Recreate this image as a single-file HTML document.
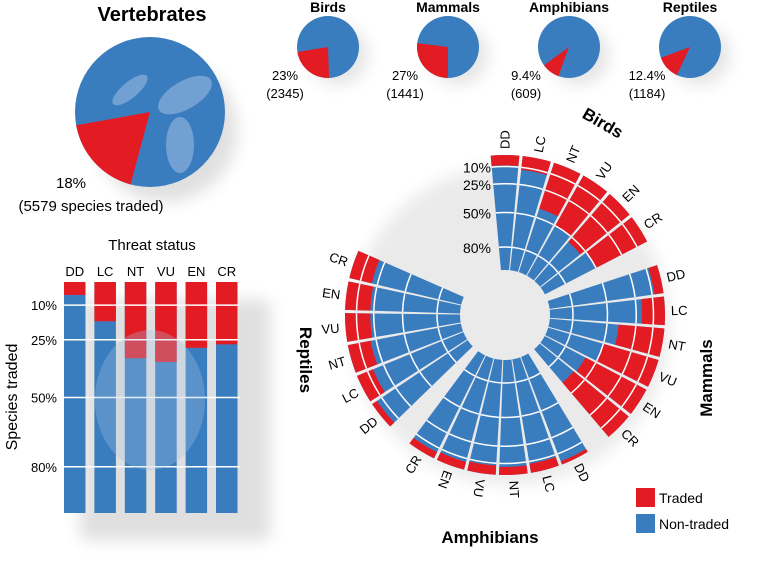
<!DOCTYPE html>
<html><head><meta charset="utf-8"><style>
body{margin:0;background:#fff;width:759px;height:559px;overflow:hidden;font-family:"Liberation Sans",sans-serif}
svg text{font-family:"Liberation Sans",sans-serif}
</style></head><body>
<svg id="chart" width="759" height="559" viewBox="0 0 759 559" xmlns="http://www.w3.org/2000/svg">
<defs><filter id="sh" x="-30%" y="-30%" width="160%" height="160%"><feGaussianBlur stdDeviation="8"/></filter></defs>
<g id="shadows"></g>
<text x="152" y="21" font-size="20" font-weight="bold" text-anchor="middle">Vertebrates</text>
<g id="pies"></g>
<g id="bars"></g>
<g id="radial"></g>
<g>
<rect x="636" y="488" width="19" height="19" fill="#e31c24"/>
<text x="659" y="503" font-size="14">Traded</text>
<rect x="636" y="514" width="19" height="19" fill="#3a7dbf"/>
<text x="659" y="529" font-size="14">Non-traded</text>
</g>
</svg>
<script>
const RED='#e31c24', BLUE='#3a7dbf';
const statuses=['DD','LC','NT','VU','EN','CR'];
const pieNames=['Vertebrates','Birds','Mammals','Amphibians','Reptiles'];
const piePct=[18,23,27,9.4,12.4];
const pieLabel=['18%','23%','27%','9.4%','12.4%'];
const pieCount=['(5579 species traded)','(2345)','(1441)','(609)','(1184)'];
const vertTraded=[5.6,17,33,34.6,28.5,27];
const yTicks=[10,25,50,80];
const groups=['Birds','Mammals','Amphibians','Reptiles'];
const birdsTraded=[9,12,42,50,55,50];
const mammalsTraded=[8,20,40,50,60,62];
const amphTraded=[3,8,7,8,7,6];
const reptTraded=[5,15,20,22,22,20];
const groupData=[birdsTraded,mammalsTraded,amphTraded,reptTraded];

const NS='http://www.w3.org/2000/svg';
function mk(tag,attrs,parent,txt){const e=document.createElementNS(NS,tag);for(const k in attrs)e.setAttribute(k,attrs[k]);if(txt!==undefined)e.textContent=txt;parent.appendChild(e);return e;}
function pt(cx,cy,r,a){const t=a*Math.PI/180;return [cx+r*Math.sin(t),cy-r*Math.cos(t)];}
function wedge(cx,cy,r,a0,a1){const p0=pt(cx,cy,r,a0),p1=pt(cx,cy,r,a1);const lg=(a1-a0)>180?1:0;return `M${cx},${cy}L${p0[0]},${p0[1]}A${r},${r} 0 ${lg} 1 ${p1[0]},${p1[1]}Z`;}
function annulus(cx,cy,r0,r1,a0,a1){const a=pt(cx,cy,r1,a0),b=pt(cx,cy,r1,a1),c=pt(cx,cy,r0,a1),d=pt(cx,cy,r0,a0);return `M${a[0]},${a[1]}A${r1},${r1} 0 0 1 ${b[0]},${b[1]}L${c[0]},${c[1]}A${r0},${r0} 0 0 0 ${d[0]},${d[1]}Z`;}

// shadows
const sh=document.getElementById('shadows');
mk('rect',{x:80,y:300,width:190,height:240,fill:'#000',opacity:0.12,filter:'url(#sh)'},sh);
mk('circle',{cx:165,cy:130,r:72,fill:'#000',opacity:0.12,filter:'url(#sh)'},sh);
mk('circle',{cx:510,cy:325,r:160,fill:'#000',opacity:0.08,filter:'url(#sh)'},sh);
for(const x of [338,458,579,700]) mk('circle',{cx:x,cy:55,r:30,fill:'#000',opacity:0.1,filter:'url(#sh)'},sh);

// pies
const pies=document.getElementById('pies');
const pieGeo=[{cx:150,cy:112,r:75},{cx:328,cy:47,r:31},{cx:448,cy:47,r:31},{cx:569,cy:47,r:31},{cx:690,cy:47,r:31}];
const pieStart=[195,178,180,200,205];
for(let i=0;i<pieNames.length;i++){
  const g=pieGeo[i];
  const c=mk('circle',{cx:g.cx,cy:g.cy,r:g.r,fill:BLUE},pies);
  
  
  const w=mk('path',{d:wedge(g.cx,g.cy,g.r,pieStart[i],pieStart[i]+piePct[i]*3.6),fill:RED},pies);
  
  
  if(i===0){
    const a=mk('text',{x:71,y:188,'font-size':15,'text-anchor':'middle'},pies,pieLabel[i]);
    
    
    const b=mk('text',{x:91,y:211,'font-size':15,'text-anchor':'middle'},pies,pieCount[i]);
    
    
  } else {
    const t=mk('text',{x:g.cx,y:12,'font-size':14,'font-weight':'bold','text-anchor':'middle'},pies,pieNames[i]);
    
    
    const a=mk('text',{x:g.cx-43,y:80,'font-size':13,'text-anchor':'middle'},pies,pieLabel[i]);
    
    
    const b=mk('text',{x:g.cx-43,y:98,'font-size':13,'text-anchor':'middle'},pies,pieCount[i]);
    
    
  }
}
// faint silhouettes
mk('ellipse',{cx:185,cy:95,rx:30,ry:14,fill:'#a9c3e6',opacity:0.5,transform:'rotate(-30 185 95)'},pies);
mk('ellipse',{cx:180,cy:145,rx:14,ry:28,fill:'#a9c3e6',opacity:0.5},pies);
mk('ellipse',{cx:130,cy:90,rx:22,ry:8,fill:'#a9c3e6',opacity:0.5,transform:'rotate(-40 130 90)'},pies);

// bar chart
const bars=document.getElementById('bars');
const bTop=282,bBot=513,bX0=64,bStep=30.4,bW=21.5;
function yB(p){return bTop+(bBot-bTop)*p/100;}
let t=mk('text',{x:152,y:250,'font-size':15,'text-anchor':'middle'},bars,'Threat status');


t=mk('text',{x:0,y:0,'font-size':16,'text-anchor':'middle',transform:'translate(17,397) rotate(-90)'},bars,'Species traded');


for(let i=0;i<statuses.length;i++){
  const x=bX0+i*bStep;
  const l=mk('text',{x:x+bW/2,y:276,'font-size':13,'text-anchor':'middle'},bars,statuses[i]);
  
  
  const b=mk('rect',{x:x,y:bTop,width:bW,height:bBot-bTop,fill:BLUE},bars);
  
  
  const r=mk('rect',{x:x,y:bTop,width:bW,height:yB(vertTraded[i])-bTop,fill:RED},bars);
  
  
}
for(const p of yTicks){
  const y=yB(p);
  const ln=mk('line',{x1:60,x2:240,y1:y,y2:y,stroke:'#fff','stroke-width':1.5},bars);
  
  
  const tl=mk('text',{x:57,y:y+5,'font-size':13,'text-anchor':'end'},bars,p+'%');
  
  
}
mk('ellipse',{cx:150,cy:400,rx:55,ry:70,fill:'#a9c3e6',opacity:0.3},bars);

// radial
const rad=document.getElementById('radial');
const CX=505,CY=315,R0=45,R1=160;
function rR(p){return R1-(R1-R0)*p/100;}
const gStart=[0,77,154,231],aStep=11.5,aW=10.3;
const titlePos=[{x:600,y:128,rot:30},{x:712,y:378,rot:-90},{x:490,y:543,rot:0},{x:300,y:360,rot:90}];
for(let g=0;g<groups.length;g++){
  const data=groupData[g];
  for(let i=0;i<statuses.length;i++){
    const ac=gStart[g]+i*aStep, a0=ac-aW/2, a1=ac+aW/2;
    const b=mk('path',{d:annulus(CX,CY,R0,R1,a0,a1),fill:BLUE},rad);
    
    
    const r=mk('path',{d:annulus(CX,CY,rR(data[i]),R1,a0,a1),fill:RED},rad);
    
    
    for(const p of yTicks){
      const rr=rR(p),q0=pt(CX,CY,rr,a0),q1=pt(CX,CY,rr,a1);
      mk('path',{d:`M${q0[0]},${q0[1]}A${rr},${rr} 0 0 1 ${q1[0]},${q1[1]}`,stroke:'#fff','stroke-width':1.5,fill:'none'},rad);
    }
    const flip=ac>200;
    const lp=pt(CX,CY,R1+6,ac);
    const rot=flip?ac+90:ac-90;
    const lab=mk('text',{x:lp[0],y:lp[1],'font-size':13,'text-anchor':flip?'end':'start','dominant-baseline':'central',transform:`rotate(${rot} ${lp[0]} ${lp[1]})`},rad,statuses[i]);
    
    
  }
  const tp=titlePos[g];
  const gt=mk('text',{x:tp.x,y:tp.y,'font-size':17,'font-weight':'bold','text-anchor':'middle',transform:`rotate(${tp.rot} ${tp.x} ${tp.y})`},rad,groups[g]);
  
  
}
for(const p of yTicks){
  const y=CY-rR(p)+6;
  const tl=mk('text',{x:491,y:y,'font-size':14,'text-anchor':'end'},rad,p+'%');
  
  
}
</script>
</body></html>
